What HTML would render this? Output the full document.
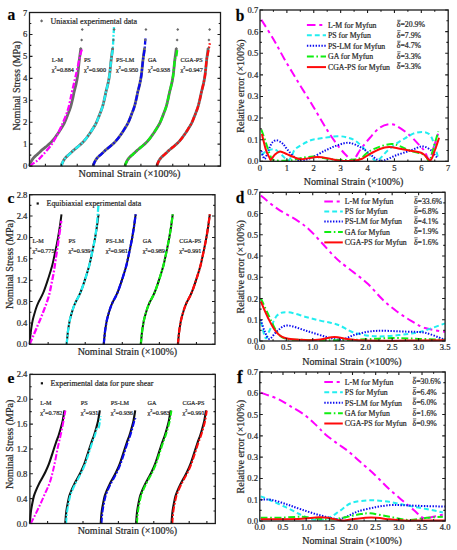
<!DOCTYPE html><html><head><meta charset="utf-8"><style>html,body{margin:0;padding:0;background:#fff;}svg{display:block;font-family:"Liberation Serif",serif;}text{stroke:#2a2a2a;stroke-width:0.22px;}</style></head><body>
<svg width="457" height="550" viewBox="0 0 457 550">
<rect width="457" height="550" fill="#ffffff"/>
<path d="M29.5,166.1 C29.57,165.84 29.74,165.05 29.9,164.56 C30.06,164.07 30.2,163.73 30.45,163.16 C30.71,162.59 31.05,161.81 31.41,161.14 C31.77,160.47 32.15,159.8 32.6,159.14 C33.05,158.49 33.45,157.92 34.12,157.24 C34.78,156.55 35.8,155.73 36.58,155.04 C37.37,154.35 38.11,153.75 38.81,153.09 C39.51,152.43 39.69,152.08 40.8,151.09 C41.91,150.1 43.96,148.47 45.5,147.16 C47.03,145.86 48.68,144.59 50.03,143.28 C51.39,141.97 52.53,140.65 53.61,139.33 C54.7,138.01 55.59,136.73 56.56,135.38 C57.53,134.03 58.15,133.22 59.42,131.21 C60.7,129.2 62.87,125.91 64.2,123.31 C65.52,120.71 66.32,118.34 67.38,115.63 C68.44,112.93 69.72,109.74 70.56,107.07 C71.41,104.4 71.86,102.21 72.47,99.61 C73.09,97.02 73.6,94.2 74.23,91.49 C74.85,88.79 75.65,86.05 76.22,83.38 C76.79,80.71 77.26,78.11 77.65,75.48 C78.03,72.84 78.23,70.28 78.52,67.58 C78.82,64.87 79.01,62.42 79.4,59.24 C79.78,56.06 80.59,50.28 80.83,48.49" stroke="#6a6a6a" stroke-width="2.8" fill="none" stroke-linejoin="round"/>
<path d="M61.33,166.1 C61.4,165.84 61.57,165.05 61.73,164.56 C61.89,164.07 62.04,163.73 62.29,163.16 C62.54,162.59 62.89,161.81 63.24,161.14 C63.6,160.47 63.99,159.8 64.44,159.14 C64.89,158.49 65.29,157.92 65.95,157.24 C66.61,156.55 67.63,155.73 68.42,155.04 C69.2,154.35 69.94,153.75 70.64,153.09 C71.35,152.43 71.52,152.08 72.63,151.09 C73.75,150.1 75.79,148.47 77.33,147.16 C78.87,145.86 80.51,144.59 81.87,143.28 C83.22,141.97 84.36,140.65 85.45,139.33 C86.53,138.01 87.42,136.73 88.39,135.38 C89.36,134.03 89.98,133.22 91.26,131.21 C92.53,129.2 94.71,125.91 96.03,123.31 C97.36,120.71 98.15,118.34 99.22,115.63 C100.28,112.93 101.55,109.74 102.4,107.07 C103.25,104.4 103.7,102.21 104.31,99.61 C104.92,97.02 105.44,94.2 106.06,91.49 C106.68,88.79 107.48,86.05 108.05,83.38 C108.62,80.71 109.1,78.11 109.48,75.48 C109.87,72.84 110.06,70.28 110.36,67.58 C110.65,64.87 110.85,62.42 111.23,59.24 C111.62,56.06 112.43,50.28 112.66,48.49" stroke="#6a6a6a" stroke-width="2.8" fill="none" stroke-linejoin="round"/>
<path d="M93.17,166.1 C93.23,165.84 93.41,165.05 93.56,164.56 C93.72,164.07 93.87,163.73 94.12,163.16 C94.37,162.59 94.72,161.81 95.08,161.14 C95.43,160.47 95.82,159.8 96.27,159.14 C96.72,158.49 97.12,157.92 97.78,157.24 C98.45,156.55 99.47,155.73 100.25,155.04 C101.03,154.35 101.77,153.75 102.48,153.09 C103.18,152.43 103.35,152.08 104.47,151.09 C105.58,150.1 107.62,148.47 109.16,147.16 C110.7,145.86 112.35,144.59 113.7,143.28 C115.05,141.97 116.19,140.65 117.28,139.33 C118.37,138.01 119.26,136.73 120.23,135.38 C121.19,134.03 121.82,133.22 123.09,131.21 C124.36,129.2 126.54,125.91 127.87,123.31 C129.19,120.71 129.99,118.34 131.05,115.63 C132.11,112.93 133.38,109.74 134.23,107.07 C135.08,104.4 135.53,102.21 136.14,99.61 C136.75,97.02 137.27,94.2 137.89,91.49 C138.52,88.79 139.31,86.05 139.88,83.38 C140.45,80.71 140.93,78.11 141.31,75.48 C141.7,72.84 141.9,70.28 142.19,67.58 C142.48,64.87 142.68,62.42 143.07,59.24 C143.45,56.06 144.26,50.28 144.5,48.49" stroke="#6a6a6a" stroke-width="2.8" fill="none" stroke-linejoin="round"/>
<path d="M125,166.1 C125.07,165.84 125.24,165.05 125.4,164.56 C125.56,164.07 125.7,163.73 125.95,163.16 C126.21,162.59 126.55,161.81 126.91,161.14 C127.27,160.47 127.65,159.8 128.1,159.14 C128.55,158.49 128.95,157.92 129.62,157.24 C130.28,156.55 131.3,155.73 132.08,155.04 C132.87,154.35 133.61,153.75 134.31,153.09 C135.01,152.43 135.19,152.08 136.3,151.09 C137.42,150.1 139.46,148.47 141,147.16 C142.53,145.86 144.18,144.59 145.53,143.28 C146.89,141.97 148.03,140.65 149.11,139.33 C150.2,138.01 151.09,136.73 152.06,135.38 C153.03,134.03 153.65,133.22 154.92,131.21 C156.2,129.2 158.37,125.91 159.7,123.31 C161.02,120.71 161.82,118.34 162.88,115.63 C163.94,112.93 165.22,109.74 166.06,107.07 C166.91,104.4 167.36,102.21 167.97,99.61 C168.59,97.02 169.1,94.2 169.73,91.49 C170.35,88.79 171.15,86.05 171.72,83.38 C172.29,80.71 172.76,78.11 173.15,75.48 C173.53,72.84 173.73,70.28 174.02,67.58 C174.32,64.87 174.51,62.42 174.9,59.24 C175.28,56.06 176.09,50.28 176.33,48.49" stroke="#6a6a6a" stroke-width="2.8" fill="none" stroke-linejoin="round"/>
<path d="M156.83,166.1 C156.9,165.84 157.07,165.05 157.23,164.56 C157.39,164.07 157.54,163.73 157.79,163.16 C158.04,162.59 158.39,161.81 158.74,161.14 C159.1,160.47 159.49,159.8 159.94,159.14 C160.39,158.49 160.79,157.92 161.45,157.24 C162.11,156.55 163.13,155.73 163.92,155.04 C164.7,154.35 165.44,153.75 166.14,153.09 C166.85,152.43 167.02,152.08 168.13,151.09 C169.25,150.1 171.29,148.47 172.83,147.16 C174.37,145.86 176.01,144.59 177.37,143.28 C178.72,141.97 179.86,140.65 180.95,139.33 C182.03,138.01 182.92,136.73 183.89,135.38 C184.86,134.03 185.48,133.22 186.76,131.21 C188.03,129.2 190.21,125.91 191.53,123.31 C192.86,120.71 193.65,118.34 194.71,115.63 C195.78,112.93 197.05,109.74 197.9,107.07 C198.75,104.4 199.2,102.21 199.81,99.61 C200.42,97.02 200.94,94.2 201.56,91.49 C202.18,88.79 202.98,86.05 203.55,83.38 C204.12,80.71 204.6,78.11 204.98,75.48 C205.37,72.84 205.56,70.28 205.86,67.58 C206.15,64.87 206.35,62.42 206.73,59.24 C207.12,56.06 207.93,50.28 208.16,48.49" stroke="#6a6a6a" stroke-width="2.8" fill="none" stroke-linejoin="round"/>
<path d="M29.5,166.1 C30.79,165.19 34.92,162.55 37.22,160.61 C39.51,158.68 40.97,157.03 43.27,154.47 C45.56,151.91 48.91,148.07 50.99,145.25 C53.07,142.44 54.09,140.61 55.76,137.57 C57.43,134.54 59.01,131.61 61.02,127.04 C63.02,122.47 66.02,115.7 67.78,110.15 C69.54,104.59 70.42,98.81 71.6,93.69 C72.78,88.57 73.92,83.52 74.86,79.43 C75.8,75.33 76.31,73.35 77.25,69.11 C78.19,64.87 79.72,57.3 80.51,53.97 C81.31,50.64 81.77,49.95 82.02,49.14" stroke="#ff00ff" stroke-width="2.3" fill="none" stroke-dasharray="6,1.8,1.8,1.8"/>
<path d="M61.33,166.1 C61.4,165.84 61.57,165.05 61.73,164.56 C61.89,164.07 62.04,163.73 62.29,163.16 C62.54,162.59 62.89,161.81 63.24,161.14 C63.6,160.47 63.99,159.8 64.44,159.14 C64.89,158.49 65.29,157.92 65.95,157.24 C66.61,156.55 67.63,155.73 68.42,155.04 C69.2,154.35 69.94,153.75 70.64,153.09 C71.35,152.43 71.52,152.08 72.63,151.09 C73.75,150.1 75.79,148.47 77.33,147.16 C78.87,145.86 80.51,144.59 81.87,143.28 C83.22,141.97 84.36,140.65 85.45,139.33 C86.53,138.01 87.42,136.73 88.39,135.38 C89.36,134.03 89.98,133.22 91.26,131.21 C92.53,129.2 94.71,125.91 96.03,123.31 C97.36,120.71 98.15,118.34 99.22,115.63 C100.28,112.93 101.55,109.74 102.4,107.07 C103.25,104.4 103.7,102.21 104.31,99.61 C104.92,97.02 105.44,94.2 106.06,91.49 C106.68,88.79 107.48,86.05 108.05,83.38 C108.62,80.71 109.1,78.11 109.48,75.48 C109.87,72.84 110.06,70.28 110.36,67.58 C110.65,64.87 110.85,62.2 111.23,59.24 C111.62,56.28 112.29,53.57 112.66,49.8 C113.04,46.04 113.23,40.48 113.46,36.64 C113.69,32.8 113.92,28.41 114.02,26.76" stroke="#22eef0" stroke-width="2.3" fill="none" stroke-dasharray="6,1.8,1.8,1.8"/>
<path d="M93.17,166.1 C93.23,165.84 93.41,165.05 93.56,164.56 C93.72,164.07 93.87,163.73 94.12,163.16 C94.37,162.59 94.72,161.81 95.08,161.14 C95.43,160.47 95.82,159.8 96.27,159.14 C96.72,158.49 97.12,157.92 97.78,157.24 C98.45,156.55 99.47,155.73 100.25,155.04 C101.03,154.35 101.77,153.75 102.48,153.09 C103.18,152.43 103.35,152.08 104.47,151.09 C105.58,150.1 107.62,148.47 109.16,147.16 C110.7,145.86 112.35,144.59 113.7,143.28 C115.05,141.97 116.19,140.65 117.28,139.33 C118.37,138.01 119.26,136.73 120.23,135.38 C121.19,134.03 121.82,133.22 123.09,131.21 C124.36,129.2 126.54,125.91 127.87,123.31 C129.19,120.71 129.99,118.34 131.05,115.63 C132.11,112.93 133.38,109.74 134.23,107.07 C135.08,104.4 135.53,102.21 136.14,99.61 C136.75,97.02 137.27,94.2 137.89,91.49 C138.52,88.79 139.31,86.05 139.88,83.38 C140.45,80.71 140.93,78.11 141.31,75.48 C141.7,72.84 141.9,70.28 142.19,67.58 C142.48,64.87 142.68,62.2 143.07,59.24 C143.45,56.28 144.1,53.28 144.5,49.8 C144.9,46.33 145.29,40.29 145.45,38.39" stroke="#0a0af0" stroke-width="2.3" fill="none" stroke-dasharray="6,1.8,1.8,1.8"/>
<path d="M125,166.1 C125.07,165.84 125.24,165.05 125.4,164.56 C125.56,164.07 125.7,163.73 125.95,163.16 C126.21,162.59 126.55,161.81 126.91,161.14 C127.27,160.47 127.65,159.8 128.1,159.14 C128.55,158.49 128.95,157.92 129.62,157.24 C130.28,156.55 131.3,155.73 132.08,155.04 C132.87,154.35 133.61,153.75 134.31,153.09 C135.01,152.43 135.19,152.08 136.3,151.09 C137.42,150.1 139.46,148.47 141,147.16 C142.53,145.86 144.18,144.59 145.53,143.28 C146.89,141.97 148.03,140.65 149.11,139.33 C150.2,138.01 151.09,136.73 152.06,135.38 C153.03,134.03 153.65,133.22 154.92,131.21 C156.2,129.2 158.37,125.91 159.7,123.31 C161.02,120.71 161.82,118.34 162.88,115.63 C163.94,112.93 165.22,109.74 166.06,107.07 C166.91,104.4 167.36,102.21 167.97,99.61 C168.59,97.02 169.1,94.2 169.73,91.49 C170.35,88.79 171.15,86.05 171.72,83.38 C172.29,80.71 172.76,78.11 173.15,75.48 C173.53,72.84 173.73,70.28 174.02,67.58 C174.32,64.87 174.51,61.1 174.9,59.24 C175.28,57.37 175.92,58.21 176.33,56.39 C176.74,54.56 177.19,49.62 177.37,48.27" stroke="#10ee10" stroke-width="2.3" fill="none" stroke-dasharray="6,1.8,1.8,1.8"/>
<path d="M156.83,166.1 C156.9,165.84 157.07,165.05 157.23,164.56 C157.39,164.07 157.54,163.73 157.79,163.16 C158.04,162.59 158.39,161.81 158.74,161.14 C159.1,160.47 159.49,159.8 159.94,159.14 C160.39,158.49 160.79,157.92 161.45,157.24 C162.11,156.55 163.13,155.73 163.92,155.04 C164.7,154.35 165.44,153.75 166.14,153.09 C166.85,152.43 167.02,152.08 168.13,151.09 C169.25,150.1 171.29,148.47 172.83,147.16 C174.37,145.86 176.01,144.59 177.37,143.28 C178.72,141.97 179.86,140.65 180.95,139.33 C182.03,138.01 182.92,136.73 183.89,135.38 C184.86,134.03 185.48,133.22 186.76,131.21 C188.03,129.2 190.21,125.91 191.53,123.31 C192.86,120.71 193.65,118.34 194.71,115.63 C195.78,112.93 197.05,109.74 197.9,107.07 C198.75,104.4 199.2,102.21 199.81,99.61 C200.42,97.02 200.94,94.2 201.56,91.49 C202.18,88.79 202.98,86.05 203.55,83.38 C204.12,80.71 204.6,78.11 204.98,75.48 C205.37,72.84 205.56,70.28 205.86,67.58 C206.15,64.87 206.35,61.83 206.73,59.24 C207.12,56.64 207.65,54.67 208.16,52 C208.68,49.33 209.56,44.68 209.84,43.22" stroke="#ff0a0a" stroke-width="2.3" fill="none" stroke-dasharray="6,1.8,1.8,1.8"/>
<path d="M80.83,46.99l1.5,1.5l-1.5,1.5l-1.5,-1.5z" fill="#6a6a6a"/>
<path d="M81.63,38.43l1.5,1.5l-1.5,1.5l-1.5,-1.5z" fill="#6a6a6a"/>
<path d="M82.26,27.9l1.5,1.5l-1.5,1.5l-1.5,-1.5z" fill="#6a6a6a"/>
<path d="M112.66,46.99l1.5,1.5l-1.5,1.5l-1.5,-1.5z" fill="#6a6a6a"/>
<path d="M113.46,38.43l1.5,1.5l-1.5,1.5l-1.5,-1.5z" fill="#6a6a6a"/>
<path d="M114.1,27.9l1.5,1.5l-1.5,1.5l-1.5,-1.5z" fill="#6a6a6a"/>
<path d="M144.5,46.99l1.5,1.5l-1.5,1.5l-1.5,-1.5z" fill="#6a6a6a"/>
<path d="M145.29,38.43l1.5,1.5l-1.5,1.5l-1.5,-1.5z" fill="#6a6a6a"/>
<path d="M145.93,27.9l1.5,1.5l-1.5,1.5l-1.5,-1.5z" fill="#6a6a6a"/>
<path d="M176.33,46.99l1.5,1.5l-1.5,1.5l-1.5,-1.5z" fill="#6a6a6a"/>
<path d="M177.13,38.43l1.5,1.5l-1.5,1.5l-1.5,-1.5z" fill="#6a6a6a"/>
<path d="M177.76,27.9l1.5,1.5l-1.5,1.5l-1.5,-1.5z" fill="#6a6a6a"/>
<path d="M208.16,46.99l1.5,1.5l-1.5,1.5l-1.5,-1.5z" fill="#6a6a6a"/>
<path d="M208.96,38.43l1.5,1.5l-1.5,1.5l-1.5,-1.5z" fill="#6a6a6a"/>
<path d="M209.6,27.9l1.5,1.5l-1.5,1.5l-1.5,-1.5z" fill="#6a6a6a"/>
<rect x="29.5" y="12.5" width="191" height="153.6" fill="none" stroke="#1c1c1c" stroke-width="1.3"/>
<path d="M29.5,166.1h3M220.5,166.1h-3M29.5,155.13h1.8M220.5,155.13h-1.8M29.5,144.16h3M220.5,144.16h-3M29.5,133.19h1.8M220.5,133.19h-1.8M29.5,122.21h3M220.5,122.21h-3M29.5,111.24h1.8M220.5,111.24h-1.8M29.5,100.27h3M220.5,100.27h-3M29.5,89.3h1.8M220.5,89.3h-1.8M29.5,78.33h3M220.5,78.33h-3M29.5,67.36h1.8M220.5,67.36h-1.8M29.5,56.39h3M220.5,56.39h-3M29.5,45.41h1.8M220.5,45.41h-1.8M29.5,34.44h3M220.5,34.44h-3M29.5,23.47h1.8M220.5,23.47h-1.8M29.5,12.5h3M220.5,12.5h-3" stroke="#1c1c1c" stroke-width="1.1" fill="none"/>
<path d="M45.42,166.1v-2.4M61.33,166.1v-2.4M77.25,166.1v-2.4M93.17,166.1v-2.4M109.08,166.1v-2.4M125,166.1v-2.4M140.92,166.1v-2.4M156.83,166.1v-2.4M172.75,166.1v-2.4M188.67,166.1v-2.4M204.58,166.1v-2.4" stroke="#1c1c1c" stroke-width="1.1" fill="none"/>
<text x="27.2" y="169.1" font-size="8.6" text-anchor="end" font-weight="normal" fill="#2a2a2a">0</text>
<text x="27.2" y="147.16" font-size="8.6" text-anchor="end" font-weight="normal" fill="#2a2a2a">1</text>
<text x="27.2" y="125.21" font-size="8.6" text-anchor="end" font-weight="normal" fill="#2a2a2a">2</text>
<text x="27.2" y="103.27" font-size="8.6" text-anchor="end" font-weight="normal" fill="#2a2a2a">3</text>
<text x="27.2" y="81.33" font-size="8.6" text-anchor="end" font-weight="normal" fill="#2a2a2a">4</text>
<text x="27.2" y="59.39" font-size="8.6" text-anchor="end" font-weight="normal" fill="#2a2a2a">5</text>
<text x="27.2" y="37.44" font-size="8.6" text-anchor="end" font-weight="normal" fill="#2a2a2a">6</text>
<text x="27.2" y="15.5" font-size="8.6" text-anchor="end" font-weight="normal" fill="#2a2a2a">7</text>
<text x="19.7" y="85.9" font-size="10" text-anchor="middle" font-weight="normal" fill="#2a2a2a" transform="rotate(-90 19.7 85.9)">Nominal Stress (MPa)</text>
<text x="129.5" y="177.2" font-size="10.25" text-anchor="middle" font-weight="normal" fill="#2a2a2a">Nominal Strain (×100%)</text>
<text x="7.5" y="20.4" font-size="15.5" text-anchor="start" font-weight="bold" fill="#000" transform="translate(0 20.4) scale(1 1.04) translate(0 -20.4)">a</text>
<path d="M41.6,19.3l1.6,1.6l-1.6,1.6l-1.6,-1.6z" fill="#6a6a6a"/>
<text x="50.5" y="23.7" font-size="8" text-anchor="start" font-weight="normal" fill="#2a2a2a">Uniaxial experimental data</text>
<text x="51.7" y="61.8" font-size="6.2" text-anchor="start" font-weight="normal" fill="#2a2a2a">L-M</text>
<text x="51.7" y="71.5" font-size="6.2" text-anchor="start" font-weight="normal" fill="#2a2a2a">χ<tspan font-size="4" dy="-2.5">2</tspan><tspan dy="2.5">=0.884</tspan></text>
<text x="83.9" y="61.8" font-size="6.2" text-anchor="start" font-weight="normal" fill="#2a2a2a">PS</text>
<text x="83.9" y="71.5" font-size="6.2" text-anchor="start" font-weight="normal" fill="#2a2a2a">χ<tspan font-size="4" dy="-2.5">2</tspan><tspan dy="2.5">=0.900</tspan></text>
<text x="116" y="61.8" font-size="6.2" text-anchor="start" font-weight="normal" fill="#2a2a2a">PS-LM</text>
<text x="116" y="71.5" font-size="6.2" text-anchor="start" font-weight="normal" fill="#2a2a2a">χ<tspan font-size="4" dy="-2.5">2</tspan><tspan dy="2.5">=0.950</tspan></text>
<text x="147.9" y="61.8" font-size="6.2" text-anchor="start" font-weight="normal" fill="#2a2a2a">GA</text>
<text x="147.9" y="71.5" font-size="6.2" text-anchor="start" font-weight="normal" fill="#2a2a2a">χ<tspan font-size="4" dy="-2.5">2</tspan><tspan dy="2.5">=0.938</tspan></text>
<text x="180.6" y="61.8" font-size="6.2" text-anchor="start" font-weight="normal" fill="#2a2a2a">CGA-PS</text>
<text x="180.6" y="71.5" font-size="6.2" text-anchor="start" font-weight="normal" fill="#2a2a2a">χ<tspan font-size="4" dy="-2.5">2</tspan><tspan dy="2.5">=0.947</tspan></text>
<path d="M29.6,344.3 C29.66,343.59 29.85,341.36 29.97,340.03 C30.09,338.69 30.22,337.53 30.34,336.29 C30.47,335.04 30.59,333.61 30.71,332.55 C30.84,331.48 30.93,330.94 31.08,329.87 C31.24,328.81 31.41,327.56 31.64,326.13 C31.87,324.71 32.16,322.84 32.47,321.33 C32.78,319.81 32.91,319.19 33.49,317.05 C34.08,314.91 35.19,310.91 36,308.5 C36.8,306.1 37.08,305.3 38.31,302.63 C39.55,299.95 41.73,296.57 43.41,292.47 C45.1,288.38 46.97,282.5 48.42,278.05 C49.87,273.6 51.01,270.03 52.13,265.76 C53.24,261.49 54.17,256.77 55.09,252.4 C56.02,248.04 56.9,243.85 57.69,239.58 C58.48,235.31 59.19,230.94 59.82,226.76 C60.45,222.57 61.21,216.52 61.49,214.47" stroke="#111111" stroke-width="2.0" fill="none" stroke-linejoin="round"/>
<path d="M66.68,344.3 C66.74,343.59 66.93,341.36 67.05,340.03 C67.17,338.69 67.3,337.53 67.42,336.29 C67.55,335.04 67.67,333.61 67.79,332.55 C67.92,331.48 68.01,330.94 68.16,329.87 C68.32,328.81 68.49,327.56 68.72,326.13 C68.95,324.71 69.24,322.84 69.55,321.33 C69.86,319.81 69.99,319.19 70.57,317.05 C71.16,314.91 72.27,310.91 73.08,308.5 C73.88,306.1 74.16,305.3 75.39,302.63 C76.63,299.95 78.81,296.57 80.49,292.47 C82.18,288.38 84.05,282.5 85.5,278.05 C86.95,273.6 88.09,270.03 89.21,265.76 C90.32,261.49 91.25,256.77 92.17,252.4 C93.1,248.04 93.98,243.85 94.77,239.58 C95.56,235.31 96.27,230.94 96.9,226.76 C97.53,222.57 98.29,216.52 98.57,214.47" stroke="#111111" stroke-width="2.0" fill="none" stroke-linejoin="round"/>
<path d="M103.76,344.3 C103.82,343.59 104.01,341.36 104.13,340.03 C104.25,338.69 104.38,337.53 104.5,336.29 C104.63,335.04 104.75,333.61 104.87,332.55 C105,331.48 105.09,330.94 105.24,329.87 C105.4,328.81 105.57,327.56 105.8,326.13 C106.03,324.71 106.32,322.84 106.63,321.33 C106.94,319.81 107.07,319.19 107.65,317.05 C108.24,314.91 109.35,310.91 110.16,308.5 C110.96,306.1 111.24,305.3 112.47,302.63 C113.71,299.95 115.89,296.57 117.57,292.47 C119.26,288.38 121.13,282.5 122.58,278.05 C124.03,273.6 125.17,270.03 126.29,265.76 C127.4,261.49 128.33,256.77 129.25,252.4 C130.18,248.04 131.06,243.85 131.85,239.58 C132.64,235.31 133.35,230.94 133.98,226.76 C134.61,222.57 135.37,216.52 135.65,214.47" stroke="#111111" stroke-width="2.0" fill="none" stroke-linejoin="round"/>
<path d="M140.84,344.3 C140.9,343.59 141.09,341.36 141.21,340.03 C141.33,338.69 141.46,337.53 141.58,336.29 C141.71,335.04 141.83,333.61 141.95,332.55 C142.08,331.48 142.17,330.94 142.32,329.87 C142.48,328.81 142.65,327.56 142.88,326.13 C143.11,324.71 143.4,322.84 143.71,321.33 C144.02,319.81 144.15,319.19 144.73,317.05 C145.32,314.91 146.43,310.91 147.24,308.5 C148.04,306.1 148.32,305.3 149.55,302.63 C150.79,299.95 152.97,296.57 154.65,292.47 C156.34,288.38 158.21,282.5 159.66,278.05 C161.11,273.6 162.25,270.03 163.37,265.76 C164.48,261.49 165.41,256.77 166.33,252.4 C167.26,248.04 168.14,243.85 168.93,239.58 C169.72,235.31 170.43,230.94 171.06,226.76 C171.69,222.57 172.45,216.52 172.73,214.47" stroke="#111111" stroke-width="2.0" fill="none" stroke-linejoin="round"/>
<path d="M177.92,344.3 C177.98,343.59 178.17,341.36 178.29,340.03 C178.41,338.69 178.54,337.53 178.66,336.29 C178.79,335.04 178.91,333.61 179.03,332.55 C179.16,331.48 179.25,330.94 179.4,329.87 C179.56,328.81 179.73,327.56 179.96,326.13 C180.19,324.71 180.48,322.84 180.79,321.33 C181.1,319.81 181.23,319.19 181.81,317.05 C182.4,314.91 183.51,310.91 184.32,308.5 C185.12,306.1 185.4,305.3 186.63,302.63 C187.87,299.95 190.05,296.57 191.73,292.47 C193.42,288.38 195.29,282.5 196.74,278.05 C198.19,273.6 199.33,270.03 200.45,265.76 C201.56,261.49 202.49,256.77 203.41,252.4 C204.34,248.04 205.22,243.85 206.01,239.58 C206.8,235.31 207.51,230.94 208.14,226.76 C208.77,222.57 209.53,216.52 209.81,214.47" stroke="#111111" stroke-width="2.0" fill="none" stroke-linejoin="round"/>
<path d="M29.6,344.3 C30.22,342.88 31.93,338.96 33.31,335.75 C34.68,332.55 36.46,328.36 37.85,325.07 C39.24,321.77 40.34,319.28 41.65,315.98 C42.96,312.69 44.49,308.77 45.73,305.3 C46.97,301.82 48.09,298.8 49.07,295.15 C50.04,291.49 50.77,287.31 51.57,283.39 C52.37,279.47 53.21,275.64 53.89,271.64 C54.57,267.63 54.91,264.34 55.65,259.35 C56.39,254.36 57.39,248.13 58.34,241.72 C59.28,235.31 60.81,224.35 61.3,220.88" stroke="#ff00ff" stroke-width="2.3" fill="none" stroke-dasharray="6,1.8,1.8,1.8"/>
<path d="M66.68,344.3 C66.74,343.59 66.93,341.36 67.05,340.03 C67.17,338.69 67.3,337.53 67.42,336.29 C67.55,335.04 67.67,333.61 67.79,332.55 C67.92,331.48 68.01,330.94 68.16,329.87 C68.32,328.81 68.49,327.56 68.72,326.13 C68.95,324.71 69.24,322.84 69.55,321.33 C69.86,319.81 69.99,319.19 70.57,317.05 C71.16,314.91 72.27,310.91 73.08,308.5 C73.88,306.1 74.16,305.3 75.39,302.63 C76.63,299.95 78.81,296.57 80.49,292.47 C82.18,288.38 84.05,282.5 85.5,278.05 C86.95,273.6 88.09,270.03 89.21,265.76 C90.32,261.49 91.25,256.77 92.17,252.4 C93.1,248.04 93.98,244.3 94.77,239.58 C95.56,234.86 96.28,229.96 96.9,224.09 C97.52,218.21 98.21,207.61 98.48,204.32" stroke="#22eef0" stroke-width="2.3" fill="none" stroke-dasharray="6,1.8,1.8,1.8"/>
<path d="M103.76,344.3 C103.82,343.59 104.01,341.36 104.13,340.03 C104.25,338.69 104.38,337.53 104.5,336.29 C104.63,335.04 104.75,333.61 104.87,332.55 C105,331.48 105.09,330.94 105.24,329.87 C105.4,328.81 105.57,327.56 105.8,326.13 C106.03,324.71 106.32,322.84 106.63,321.33 C106.94,319.81 107.07,319.19 107.65,317.05 C108.24,314.91 109.35,310.91 110.16,308.5 C110.96,306.1 111.24,305.3 112.47,302.63 C113.71,299.95 115.89,296.57 117.57,292.47 C119.26,288.38 121.13,282.5 122.58,278.05 C124.03,273.6 125.17,270.03 126.29,265.76 C127.4,261.49 128.33,256.77 129.25,252.4 C130.18,248.04 131.06,243.85 131.85,239.58 C132.64,235.31 133.35,230.94 133.98,226.76 C134.61,222.57 135.37,216.52 135.65,214.47" stroke="#0a0af0" stroke-width="2.3" fill="none" stroke-dasharray="6,1.8,1.8,1.8"/>
<path d="M140.84,344.3 C140.9,343.59 141.09,341.36 141.21,340.03 C141.33,338.69 141.46,337.53 141.58,336.29 C141.71,335.04 141.83,333.61 141.95,332.55 C142.08,331.48 142.17,330.94 142.32,329.87 C142.48,328.81 142.65,327.56 142.88,326.13 C143.11,324.71 143.4,322.84 143.71,321.33 C144.02,319.81 144.15,319.19 144.73,317.05 C145.32,314.91 146.43,310.91 147.24,308.5 C148.04,306.1 148.32,305.3 149.55,302.63 C150.79,299.95 152.97,296.57 154.65,292.47 C156.34,288.38 158.21,282.5 159.66,278.05 C161.11,273.6 162.25,270.03 163.37,265.76 C164.48,261.49 165.41,256.77 166.33,252.4 C167.26,248.04 168.14,243.85 168.93,239.58 C169.72,235.31 170.43,230.94 171.06,226.76 C171.69,222.57 172.45,216.52 172.73,214.47" stroke="#10ee10" stroke-width="2.3" fill="none" stroke-dasharray="6,1.8,1.8,1.8"/>
<path d="M177.92,344.3 C177.98,343.59 178.17,341.36 178.29,340.03 C178.41,338.69 178.54,337.53 178.66,336.29 C178.79,335.04 178.91,333.61 179.03,332.55 C179.16,331.48 179.25,330.94 179.4,329.87 C179.56,328.81 179.73,327.56 179.96,326.13 C180.19,324.71 180.48,322.84 180.79,321.33 C181.1,319.81 181.23,319.19 181.81,317.05 C182.4,314.91 183.51,310.91 184.32,308.5 C185.12,306.1 185.4,305.3 186.63,302.63 C187.87,299.95 190.05,296.57 191.73,292.47 C193.42,288.38 195.29,282.5 196.74,278.05 C198.19,273.6 199.33,270.03 200.45,265.76 C201.56,261.49 202.49,256.77 203.41,252.4 C204.34,248.04 205.22,243.85 206.01,239.58 C206.8,235.31 207.51,230.94 208.14,226.76 C208.77,222.57 209.53,216.52 209.81,214.47" stroke="#ff0a0a" stroke-width="2.3" fill="none" stroke-dasharray="6,1.8,1.8,1.8"/>
<rect x="29.6" y="194.7" width="185.4" height="149.6" fill="none" stroke="#1c1c1c" stroke-width="1.3"/>
<path d="M29.6,344.3h3M215,344.3h-3M29.6,333.61h1.8M215,333.61h-1.8M29.6,322.93h3M215,322.93h-3M29.6,312.24h1.8M215,312.24h-1.8M29.6,301.56h3M215,301.56h-3M29.6,290.87h1.8M215,290.87h-1.8M29.6,280.19h3M215,280.19h-3M29.6,269.5h1.8M215,269.5h-1.8M29.6,258.81h3M215,258.81h-3M29.6,248.13h1.8M215,248.13h-1.8M29.6,237.44h3M215,237.44h-3M29.6,226.76h1.8M215,226.76h-1.8M29.6,216.07h3M215,216.07h-3M29.6,205.39h1.8M215,205.39h-1.8M29.6,194.7h3M215,194.7h-3" stroke="#1c1c1c" stroke-width="1.1" fill="none"/>
<path d="M48.14,344.3v-2.4M66.68,344.3v-2.4M85.22,344.3v-2.4M103.76,344.3v-2.4M122.3,344.3v-2.4M140.84,344.3v-2.4M159.38,344.3v-2.4M177.92,344.3v-2.4M196.46,344.3v-2.4" stroke="#1c1c1c" stroke-width="1.1" fill="none"/>
<text x="27.4" y="347.3" font-size="8.6" text-anchor="end" font-weight="normal" fill="#2a2a2a">0.0</text>
<text x="27.4" y="325.93" font-size="8.6" text-anchor="end" font-weight="normal" fill="#2a2a2a">0.4</text>
<text x="27.4" y="304.56" font-size="8.6" text-anchor="end" font-weight="normal" fill="#2a2a2a">0.8</text>
<text x="27.4" y="283.19" font-size="8.6" text-anchor="end" font-weight="normal" fill="#2a2a2a">1.2</text>
<text x="27.4" y="261.81" font-size="8.6" text-anchor="end" font-weight="normal" fill="#2a2a2a">1.6</text>
<text x="27.4" y="240.44" font-size="8.6" text-anchor="end" font-weight="normal" fill="#2a2a2a">2.0</text>
<text x="27.4" y="219.07" font-size="8.6" text-anchor="end" font-weight="normal" fill="#2a2a2a">2.4</text>
<text x="27.4" y="197.7" font-size="8.6" text-anchor="end" font-weight="normal" fill="#2a2a2a">2.8</text>
<text x="13.3" y="264.4" font-size="10" text-anchor="middle" font-weight="normal" fill="#2a2a2a" transform="rotate(-90 13.3 264.4)">Nominal Stress (MPa)</text>
<text x="127.4" y="355.2" font-size="10" text-anchor="middle" font-weight="normal" fill="#2a2a2a">Nominal Strain (×100%)</text>
<text x="7.5" y="202.5" font-size="15.5" text-anchor="start" font-weight="bold" fill="#000">c</text>
<rect x="36.6" y="202.4" width="2.2" height="2.2" fill="#111111"/>
<text x="46.6" y="206.4" font-size="7.9" text-anchor="start" font-weight="normal" fill="#2a2a2a">Equibiaxial experimental data</text>
<text x="32.4" y="243.2" font-size="6.2" text-anchor="start" font-weight="normal" fill="#2a2a2a">L-M</text>
<text x="32.4" y="253" font-size="6.2" text-anchor="start" font-weight="normal" fill="#2a2a2a">χ<tspan font-size="4" dy="-2.5">2</tspan><tspan dy="2.5">=0.775</tspan></text>
<text x="68.5" y="243.2" font-size="6.2" text-anchor="start" font-weight="normal" fill="#2a2a2a">PS</text>
<text x="68.5" y="253" font-size="6.2" text-anchor="start" font-weight="normal" fill="#2a2a2a">χ<tspan font-size="4" dy="-2.5">2</tspan><tspan dy="2.5">=0.939</tspan></text>
<text x="105.8" y="243.2" font-size="6.2" text-anchor="start" font-weight="normal" fill="#2a2a2a">PS-LM</text>
<text x="105.8" y="253" font-size="6.2" text-anchor="start" font-weight="normal" fill="#2a2a2a">χ<tspan font-size="4" dy="-2.5">2</tspan><tspan dy="2.5">=0.961</tspan></text>
<text x="142.8" y="243.2" font-size="6.2" text-anchor="start" font-weight="normal" fill="#2a2a2a">GA</text>
<text x="142.8" y="253" font-size="6.2" text-anchor="start" font-weight="normal" fill="#2a2a2a">χ<tspan font-size="4" dy="-2.5">2</tspan><tspan dy="2.5">=0.989</tspan></text>
<text x="179.3" y="243.2" font-size="6.2" text-anchor="start" font-weight="normal" fill="#2a2a2a">CGA-PS</text>
<text x="179.3" y="253" font-size="6.2" text-anchor="start" font-weight="normal" fill="#2a2a2a">χ<tspan font-size="4" dy="-2.5">2</tspan><tspan dy="2.5">=0.991</tspan></text>
<path d="M29.9,523.5 C29.97,522.46 30.17,519.36 30.34,517.29 C30.52,515.22 30.62,513.46 30.96,511.07 C31.3,508.69 31.89,505.48 32.38,503 C32.86,500.51 33.29,498.24 33.88,496.16 C34.47,494.09 35.11,492.54 35.92,490.57 C36.73,488.61 37.78,486.33 38.75,484.36 C39.72,482.39 40.65,480.84 41.76,478.77 C42.86,476.7 44.19,474.42 45.39,471.94 C46.58,469.45 47.75,466.97 48.93,463.86 C50.11,460.75 51.3,456.82 52.47,453.3 C53.63,449.78 54.89,445.74 55.92,442.74 C56.95,439.73 57.86,437.66 58.66,435.28 C59.46,432.9 60.03,430.83 60.7,428.45 C61.36,426.07 62.02,424 62.64,420.99 C63.26,417.99 64.12,412.19 64.41,410.43" stroke="#111111" stroke-width="2.1" fill="none" stroke-linejoin="round"/>
<path d="M65.3,523.5 C65.37,522.46 65.56,519.36 65.74,517.29 C65.92,515.22 66.02,513.46 66.36,511.07 C66.7,508.69 67.29,505.48 67.78,503 C68.26,500.51 68.69,498.24 69.28,496.16 C69.87,494.09 70.51,492.54 71.32,490.57 C72.13,488.61 73.17,486.33 74.15,484.36 C75.12,482.39 76.05,480.84 77.16,478.77 C78.26,476.7 79.59,474.42 80.79,471.94 C81.98,469.45 83.15,466.97 84.33,463.86 C85.51,460.75 86.7,456.82 87.87,453.3 C89.03,449.78 90.28,445.74 91.32,442.74 C92.35,439.73 93.26,437.66 94.06,435.28 C94.86,432.9 95.43,430.83 96.1,428.45 C96.76,426.07 97.42,424 98.04,420.99 C98.66,417.99 99.52,412.19 99.81,410.43" stroke="#111111" stroke-width="2.1" fill="none" stroke-linejoin="round"/>
<path d="M100.7,523.5 C100.77,522.46 100.96,519.36 101.14,517.29 C101.32,515.22 101.42,513.46 101.76,511.07 C102.1,508.69 102.69,505.48 103.18,503 C103.66,500.51 104.09,498.24 104.68,496.16 C105.27,494.09 105.9,492.54 106.71,490.57 C107.53,488.61 108.57,486.33 109.55,484.36 C110.52,482.39 111.45,480.84 112.56,478.77 C113.66,476.7 114.99,474.42 116.18,471.94 C117.38,469.45 118.54,466.97 119.72,463.86 C120.9,460.75 122.1,456.82 123.26,453.3 C124.43,449.78 125.68,445.74 126.72,442.74 C127.75,439.73 128.66,437.66 129.46,435.28 C130.25,432.9 130.83,430.83 131.49,428.45 C132.16,426.07 132.82,424 133.44,420.99 C134.06,417.99 134.92,412.19 135.21,410.43" stroke="#111111" stroke-width="2.1" fill="none" stroke-linejoin="round"/>
<path d="M136.1,523.5 C136.17,522.46 136.36,519.36 136.54,517.29 C136.72,515.22 136.82,513.46 137.16,511.07 C137.5,508.69 138.09,505.48 138.57,503 C139.06,500.51 139.49,498.24 140.08,496.16 C140.67,494.09 141.3,492.54 142.11,490.57 C142.92,488.61 143.97,486.33 144.95,484.36 C145.92,482.39 146.85,480.84 147.95,478.77 C149.06,476.7 150.39,474.42 151.58,471.94 C152.78,469.45 153.94,466.97 155.12,463.86 C156.3,460.75 157.5,456.82 158.66,453.3 C159.83,449.78 161.08,445.74 162.11,442.74 C163.15,439.73 164.06,437.66 164.86,435.28 C165.65,432.9 166.23,430.83 166.89,428.45 C167.56,426.07 168.22,424 168.84,420.99 C169.46,417.99 170.31,412.19 170.61,410.43" stroke="#111111" stroke-width="2.1" fill="none" stroke-linejoin="round"/>
<path d="M171.49,523.5 C171.57,522.46 171.76,519.36 171.94,517.29 C172.11,515.22 172.22,513.46 172.56,511.07 C172.9,508.69 173.49,505.48 173.97,503 C174.46,500.51 174.89,498.24 175.48,496.16 C176.07,494.09 176.7,492.54 177.51,490.57 C178.32,488.61 179.37,486.33 180.34,484.36 C181.32,482.39 182.25,480.84 183.35,478.77 C184.46,476.7 185.79,474.42 186.98,471.94 C188.18,469.45 189.34,466.97 190.52,463.86 C191.7,460.75 192.9,456.82 194.06,453.3 C195.23,449.78 196.48,445.74 197.51,442.74 C198.54,439.73 199.46,437.66 200.26,435.28 C201.05,432.9 201.63,430.83 202.29,428.45 C202.95,426.07 203.62,424 204.24,420.99 C204.86,417.99 205.71,412.19 206.01,410.43" stroke="#111111" stroke-width="2.1" fill="none" stroke-linejoin="round"/>
<g transform="translate(0.8 0.2)">
<path d="M29.9,523.5 C30.64,522.05 32.75,518.01 34.32,514.8 C35.9,511.59 37.75,507.76 39.37,504.24 C40.99,500.72 42.47,497.3 44.06,493.68 C45.65,490.06 47.45,486.85 48.93,482.5 C50.4,478.15 51.55,473.49 52.91,467.59 C54.27,461.69 55.74,453.3 57.07,447.09 C58.4,440.87 59.62,436.42 60.87,430.31 C62.13,424.2 63.97,413.75 64.59,410.43" stroke="#ff00ff" stroke-width="2.0" fill="none" stroke-dasharray="6,1.8,1.8,1.8"/>
<path d="M65.3,523.5 C65.37,522.46 65.56,519.36 65.74,517.29 C65.92,515.22 66.02,513.46 66.36,511.07 C66.7,508.69 67.29,505.48 67.78,503 C68.26,500.51 68.69,498.24 69.28,496.16 C69.87,494.09 70.51,492.54 71.32,490.57 C72.13,488.61 73.17,486.33 74.15,484.36 C75.12,482.39 76.05,480.84 77.16,478.77 C78.26,476.7 79.59,474.42 80.79,471.94 C81.98,469.45 83.15,466.97 84.33,463.86 C85.51,460.75 86.7,456.82 87.87,453.3 C89.03,449.78 90.28,445.74 91.32,442.74 C92.35,439.73 93.26,437.66 94.06,435.28 C94.86,432.9 95.43,429.79 96.1,428.45 C96.76,427.1 97.41,429.28 98.04,427.21 C98.68,425.14 99.59,417.89 99.9,416.02" stroke="#22eef0" stroke-width="2.0" fill="none" stroke-dasharray="6,1.8,1.8,1.8"/>
<path d="M100.7,523.5 C100.77,522.46 100.96,519.36 101.14,517.29 C101.32,515.22 101.42,513.46 101.76,511.07 C102.1,508.69 102.69,505.48 103.18,503 C103.66,500.51 104.09,498.24 104.68,496.16 C105.27,494.09 105.9,492.54 106.71,490.57 C107.53,488.61 108.57,486.33 109.55,484.36 C110.52,482.39 111.45,480.84 112.56,478.77 C113.66,476.7 114.99,474.42 116.18,471.94 C117.38,469.45 118.54,466.97 119.72,463.86 C120.9,460.75 122.1,456.82 123.26,453.3 C124.43,449.78 125.68,445.74 126.72,442.74 C127.75,439.73 128.66,437.66 129.46,435.28 C130.25,432.9 130.83,430.83 131.49,428.45 C132.16,426.07 132.9,422.75 133.44,420.99 C133.99,419.23 134.55,418.41 134.77,417.89" stroke="#0a0af0" stroke-width="2.0" fill="none" stroke-dasharray="6,1.8,1.8,1.8"/>
<path d="M136.1,523.5 C136.17,522.46 136.36,519.36 136.54,517.29 C136.72,515.22 136.82,513.46 137.16,511.07 C137.5,508.69 138.09,505.48 138.57,503 C139.06,500.51 139.49,498.24 140.08,496.16 C140.67,494.09 141.3,492.54 142.11,490.57 C142.92,488.61 143.97,486.33 144.95,484.36 C145.92,482.39 146.85,480.84 147.95,478.77 C149.06,476.7 150.39,474.42 151.58,471.94 C152.78,469.45 153.94,466.97 155.12,463.86 C156.3,460.75 157.5,456.82 158.66,453.3 C159.83,449.78 161.08,445.74 162.11,442.74 C163.15,439.73 164.06,437.66 164.86,435.28 C165.65,432.9 166.23,430.83 166.89,428.45 C167.56,426.07 168.22,424 168.84,420.99 C169.46,417.99 170.31,412.19 170.61,410.43" stroke="#10ee10" stroke-width="2.0" fill="none" stroke-dasharray="6,1.8,1.8,1.8"/>
<path d="M171.49,523.5 C171.57,522.46 171.76,519.36 171.94,517.29 C172.11,515.22 172.22,513.46 172.56,511.07 C172.9,508.69 173.49,505.48 173.97,503 C174.46,500.51 174.89,498.24 175.48,496.16 C176.07,494.09 176.7,492.54 177.51,490.57 C178.32,488.61 179.37,486.33 180.34,484.36 C181.32,482.39 182.25,480.84 183.35,478.77 C184.46,476.7 185.79,474.42 186.98,471.94 C188.18,469.45 189.34,466.97 190.52,463.86 C191.7,460.75 192.9,456.82 194.06,453.3 C195.23,449.78 196.48,445.74 197.51,442.74 C198.54,439.73 199.46,437.66 200.26,435.28 C201.05,432.9 201.63,430.83 202.29,428.45 C202.95,426.07 203.62,424 204.24,420.99 C204.86,417.99 205.71,412.19 206.01,410.43" stroke="#ff0a0a" stroke-width="2.0" fill="none" stroke-dasharray="6,1.8,1.8,1.8"/>
</g>
<rect x="29.9" y="374.4" width="185.4" height="149.1" fill="none" stroke="#1c1c1c" stroke-width="1.3"/>
<path d="M29.9,523.5h3M215.3,523.5h-3M29.9,511.07h1.8M215.3,511.07h-1.8M29.9,498.65h3M215.3,498.65h-3M29.9,486.22h1.8M215.3,486.22h-1.8M29.9,473.8h3M215.3,473.8h-3M29.9,461.38h1.8M215.3,461.38h-1.8M29.9,448.95h3M215.3,448.95h-3M29.9,436.52h1.8M215.3,436.52h-1.8M29.9,424.1h3M215.3,424.1h-3M29.9,411.67h1.8M215.3,411.67h-1.8M29.9,399.25h3M215.3,399.25h-3M29.9,386.82h1.8M215.3,386.82h-1.8M29.9,374.4h3M215.3,374.4h-3" stroke="#1c1c1c" stroke-width="1.1" fill="none"/>
<path d="M47.6,523.5v-2.4M65.3,523.5v-2.4M83,523.5v-2.4M100.7,523.5v-2.4M118.4,523.5v-2.4M136.1,523.5v-2.4M153.79,523.5v-2.4M171.49,523.5v-2.4M189.19,523.5v-2.4M206.89,523.5v-2.4" stroke="#1c1c1c" stroke-width="1.1" fill="none"/>
<text x="27.4" y="526.5" font-size="8.6" text-anchor="end" font-weight="normal" fill="#2a2a2a">0.0</text>
<text x="27.4" y="501.65" font-size="8.6" text-anchor="end" font-weight="normal" fill="#2a2a2a">0.4</text>
<text x="27.4" y="476.8" font-size="8.6" text-anchor="end" font-weight="normal" fill="#2a2a2a">0.8</text>
<text x="27.4" y="451.95" font-size="8.6" text-anchor="end" font-weight="normal" fill="#2a2a2a">1.2</text>
<text x="27.4" y="427.1" font-size="8.6" text-anchor="end" font-weight="normal" fill="#2a2a2a">1.6</text>
<text x="27.4" y="402.25" font-size="8.6" text-anchor="end" font-weight="normal" fill="#2a2a2a">2.0</text>
<text x="27.4" y="377.4" font-size="8.6" text-anchor="end" font-weight="normal" fill="#2a2a2a">2.4</text>
<text x="13.3" y="444.4" font-size="10" text-anchor="middle" font-weight="normal" fill="#2a2a2a" transform="rotate(-90 13.3 444.4)">Nominal Stress (MPa)</text>
<text x="127.4" y="534.3" font-size="10" text-anchor="middle" font-weight="normal" fill="#2a2a2a">Nominal Strain (×100%)</text>
<text x="7.5" y="382.5" font-size="15.5" text-anchor="start" font-weight="bold" fill="#000">e</text>
<rect x="40.8" y="382.2" width="2.2" height="2.2" fill="#111111"/>
<text x="50.5" y="386.2" font-size="7.85" text-anchor="start" font-weight="normal" fill="#2a2a2a">Experimental data for pure shear</text>
<text x="40.2" y="404.7" font-size="6.2" text-anchor="start" font-weight="normal" fill="#2a2a2a">L-M</text>
<text x="40.2" y="414.8" font-size="6.2" text-anchor="start" font-weight="normal" fill="#2a2a2a">χ<tspan font-size="4" dy="-2.5">2</tspan><tspan dy="2.5">=0.782</tspan></text>
<text x="80.8" y="404.7" font-size="6.2" text-anchor="start" font-weight="normal" fill="#2a2a2a">PS</text>
<text x="80.8" y="414.8" font-size="6.2" text-anchor="start" font-weight="normal" fill="#2a2a2a">χ<tspan font-size="4" dy="-2.5">2</tspan><tspan dy="2.5">=931</tspan></text>
<text x="110.8" y="404.7" font-size="6.2" text-anchor="start" font-weight="normal" fill="#2a2a2a">PS-LM</text>
<text x="110.8" y="414.8" font-size="6.2" text-anchor="start" font-weight="normal" fill="#2a2a2a">χ<tspan font-size="4" dy="-2.5">2</tspan><tspan dy="2.5">=0.936</tspan></text>
<text x="147.5" y="404.7" font-size="6.2" text-anchor="start" font-weight="normal" fill="#2a2a2a">GA</text>
<text x="147.5" y="414.8" font-size="6.2" text-anchor="start" font-weight="normal" fill="#2a2a2a">χ<tspan font-size="4" dy="-2.5">2</tspan><tspan dy="2.5">=0.983</tspan></text>
<text x="182.5" y="404.7" font-size="6.2" text-anchor="start" font-weight="normal" fill="#2a2a2a">CGA-PS</text>
<text x="182.5" y="414.8" font-size="6.2" text-anchor="start" font-weight="normal" fill="#2a2a2a">χ<tspan font-size="4" dy="-2.5">2</tspan><tspan dy="2.5">=0.991</tspan></text>
<path d="M261.34,19.73 C263.36,22.97 269.63,32.69 273.44,39.18 C277.25,45.66 280.16,51.61 284.2,58.63 C288.23,65.66 293.16,73.94 297.64,81.33 C302.12,88.71 307.05,96.28 311.08,102.94 C315.12,109.61 318.7,116.09 321.84,121.31 C324.97,126.54 327.21,130.21 329.9,134.28 C332.59,138.35 335.5,142.5 337.97,145.74 C340.43,148.98 342.67,151.57 344.69,153.74 C346.71,155.9 348.5,157.81 350.07,158.71 C351.64,159.61 352.31,160.76 354.1,159.14 C355.89,157.52 358.18,152.55 360.82,148.98 C363.47,145.41 366.78,141.31 369.96,137.74 C373.14,134.17 376.42,129.85 379.91,127.58 C383.41,125.31 387.62,124.09 390.93,124.12 C394.25,124.16 396.58,125.85 399.81,127.8 C403.03,129.74 407.15,133.02 410.29,135.8 C413.43,138.57 416.3,141.96 418.63,144.44 C420.96,146.93 422.48,148.19 424.27,150.71 C426.06,153.23 427.86,159.97 429.38,159.57 C430.9,159.17 431.93,152.73 433.41,148.33 C434.89,143.94 437.45,135.72 438.25,133.2" stroke="#ff00ff" stroke-width="2.0" fill="none" stroke-dasharray="8.6,3.8,3.0,3.8"/>
<path d="M261.34,154.82 C262.46,154.1 265.83,151.39 268.07,150.49 C270.31,149.59 272.55,148.69 274.79,149.41 C277.03,150.13 279.27,152.98 281.51,154.82 C283.75,156.65 286.44,160.44 288.23,160.44 C290.02,160.44 290.96,156.83 292.26,154.82 C293.56,152.8 293.07,150.71 296.03,148.33 C298.98,145.95 306.33,142.14 310.01,140.55 C313.68,138.97 313.5,139.54 318.07,138.82 C322.64,138.1 332.32,136.37 337.43,136.23 C342.54,136.08 345.63,137.13 348.72,137.96 C351.81,138.79 353.29,139.29 355.98,141.2 C358.67,143.11 362.3,146.82 364.85,149.41 C367.41,152.01 369.29,154.85 371.31,156.76 C373.32,158.67 374.26,161.88 376.95,160.87 C379.64,159.86 384.3,153.52 387.44,150.71 C390.57,147.9 392.86,146.06 395.77,144.01 C398.69,141.96 402,140.12 404.91,138.39 C407.83,136.66 410.34,134.71 413.25,133.63 C416.16,132.55 419.7,131.8 422.39,131.9 C425.08,132.01 427.54,132.63 429.38,134.28 C431.22,135.94 431.98,138.06 433.41,141.85 C434.85,145.63 437.22,154.46 437.98,156.98" stroke="#22eef0" stroke-width="2.0" fill="none" stroke-dasharray="4.9,3.0"/>
<path d="M261.34,151.14 C261.66,152.08 262.6,155.54 263.23,156.76 C263.85,157.99 264.21,159.64 265.11,158.49 C266,157.34 267.44,152.47 268.6,149.84 C269.77,147.21 270.75,144.3 272.1,142.71 C273.44,141.13 274.92,140.19 276.67,140.33 C278.42,140.48 280.88,142.14 282.58,143.58 C284.29,145.02 285.14,146.93 286.89,148.98 C288.63,151.03 291.05,153.99 293.07,155.9 C295.09,157.81 296.16,160.04 298.98,160.44 C301.81,160.83 305.62,159.93 310.01,158.27 C314.4,156.62 320.67,152.69 325.33,150.49 C329.99,148.3 333.89,146.35 337.97,145.09 C342.05,143.83 345.54,142.28 349.8,142.93 C354.06,143.58 358.94,146.17 363.51,148.98 C368.08,151.79 373.86,157.88 377.22,159.79 C380.58,161.7 380.49,161.19 383.67,160.44 C386.86,159.68 391.83,156.91 396.31,155.25 C400.79,153.59 406.21,151.97 410.56,150.49 C414.91,149.02 418.94,146.39 422.39,146.39 C425.84,146.39 429.2,149.09 431.26,150.49 C433.32,151.9 433.73,153.55 434.76,154.82 C435.79,156.08 437,157.52 437.45,158.06" stroke="#0a0af0" stroke-width="2.0" fill="none" stroke-dasharray="1.4,1.5"/>
<path d="M261.34,129.53 C262.11,131.72 264.57,138.75 265.91,142.71 C267.26,146.67 268.33,150.53 269.41,153.3 C270.49,156.08 270.8,158.13 272.37,159.35 C273.94,160.58 275.5,160.51 278.82,160.65 C282.14,160.8 288.5,160.65 292.26,160.22 C296.03,159.79 297.82,158.67 301.4,158.06 C304.99,157.45 309.47,156.44 313.77,156.54 C318.07,156.65 322.73,158.13 327.21,158.71 C331.7,159.28 336.18,159.86 340.66,160 C345.14,160.15 350.52,160 354.1,159.57 C357.68,159.14 359.84,158.67 362.17,157.41 C364.5,156.15 365.12,153.81 368.08,152.01 C371.04,150.2 375.97,147.94 379.91,146.6 C383.85,145.27 388.42,144.08 391.74,144.01 C395.06,143.94 396.71,145.05 399.81,146.17 C402.9,147.29 406.21,149.27 410.29,150.71 C414.37,152.15 421.09,153.12 424.27,154.82 C427.45,156.51 427.86,161.95 429.38,160.87 C430.9,159.79 431.93,153.23 433.41,148.33 C434.89,143.43 437.45,134.28 438.25,131.47" stroke="#10ee10" stroke-width="2.0" fill="none" stroke-dasharray="6.9,2.6,1.6,2.6"/>
<path d="M261.88,134.07 C262.55,136.7 264.66,145.92 265.91,149.84 C267.17,153.77 268.56,155.97 269.41,157.63 C270.26,159.28 270.17,160.22 271.02,159.79 C271.87,159.35 273.04,156.4 274.52,155.03 C276,153.66 277.83,151.72 279.9,151.57 C281.96,151.43 284.69,153.3 286.89,154.17 C289.08,155.03 290.65,155.93 293.07,156.76 C295.49,157.59 297.33,159.1 301.4,159.14 C305.48,159.17 312.79,157.05 317.54,156.98 C322.29,156.91 326.05,158.06 329.9,158.71 C333.76,159.35 336.62,160.54 340.66,160.87 C344.69,161.19 350.52,161.01 354.1,160.65 C357.68,160.29 359.84,159.64 362.17,158.71 C364.5,157.77 365.12,156.65 368.08,155.03 C371.04,153.41 376.42,150.31 379.91,148.98 C383.41,147.65 385.74,147.07 389.05,147.03 C392.37,147 396.27,148.15 399.81,148.76 C403.35,149.38 406.53,149.95 410.29,150.71 C414.06,151.47 419.07,151.68 422.39,153.3 C425.71,154.92 428.13,160.9 430.19,160.44 C432.25,159.97 433.28,154.28 434.76,150.49 C436.24,146.71 438.34,139.87 439.06,137.74" stroke="#ff0a0a" stroke-width="2.0" fill="none"/>
<rect x="260" y="10" width="188.2" height="151.3" fill="none" stroke="#1c1c1c" stroke-width="1.3"/>
<path d="M260,161.3h3M448.2,161.3h-3M260,150.49h1.8M448.2,150.49h-1.8M260,139.69h3M448.2,139.69h-3M260,128.88h1.8M448.2,128.88h-1.8M260,118.07h3M448.2,118.07h-3M260,107.26h1.8M448.2,107.26h-1.8M260,96.46h3M448.2,96.46h-3M260,85.65h1.8M448.2,85.65h-1.8M260,74.84h3M448.2,74.84h-3M260,64.04h1.8M448.2,64.04h-1.8M260,53.23h3M448.2,53.23h-3M260,42.42h1.8M448.2,42.42h-1.8M260,31.61h3M448.2,31.61h-3M260,20.81h1.8M448.2,20.81h-1.8M260,10h3M448.2,10h-3" stroke="#1c1c1c" stroke-width="1.1" fill="none"/>
<path d="M273.44,161.3v-1.8M273.44,10v1.8M286.89,161.3v-3M286.89,10v3M300.33,161.3v-1.8M300.33,10v1.8M313.77,161.3v-3M313.77,10v3M327.21,161.3v-1.8M327.21,10v1.8M340.66,161.3v-3M340.66,10v3M354.1,161.3v-1.8M354.1,10v1.8M367.54,161.3v-3M367.54,10v3M380.99,161.3v-1.8M380.99,10v1.8M394.43,161.3v-3M394.43,10v3M407.87,161.3v-1.8M407.87,10v1.8M421.31,161.3v-3M421.31,10v3M434.76,161.3v-1.8M434.76,10v1.8" stroke="#1c1c1c" stroke-width="1.1" fill="none"/>
<text x="258.2" y="164.3" font-size="8.6" text-anchor="end" font-weight="normal" fill="#2a2a2a">0.0</text>
<text x="258.2" y="142.69" font-size="8.6" text-anchor="end" font-weight="normal" fill="#2a2a2a">0.1</text>
<text x="258.2" y="121.07" font-size="8.6" text-anchor="end" font-weight="normal" fill="#2a2a2a">0.2</text>
<text x="258.2" y="99.46" font-size="8.6" text-anchor="end" font-weight="normal" fill="#2a2a2a">0.3</text>
<text x="258.2" y="77.84" font-size="8.6" text-anchor="end" font-weight="normal" fill="#2a2a2a">0.4</text>
<text x="258.2" y="56.23" font-size="8.6" text-anchor="end" font-weight="normal" fill="#2a2a2a">0.5</text>
<text x="258.2" y="34.61" font-size="8.6" text-anchor="end" font-weight="normal" fill="#2a2a2a">0.6</text>
<text x="258.2" y="13" font-size="8.6" text-anchor="end" font-weight="normal" fill="#2a2a2a">0.7</text>
<text x="260" y="170.6" font-size="8.6" text-anchor="middle" font-weight="normal" fill="#2a2a2a">0</text>
<text x="286.89" y="170.6" font-size="8.6" text-anchor="middle" font-weight="normal" fill="#2a2a2a">1</text>
<text x="313.77" y="170.6" font-size="8.6" text-anchor="middle" font-weight="normal" fill="#2a2a2a">2</text>
<text x="340.66" y="170.6" font-size="8.6" text-anchor="middle" font-weight="normal" fill="#2a2a2a">3</text>
<text x="367.54" y="170.6" font-size="8.6" text-anchor="middle" font-weight="normal" fill="#2a2a2a">4</text>
<text x="394.43" y="170.6" font-size="8.6" text-anchor="middle" font-weight="normal" fill="#2a2a2a">5</text>
<text x="421.31" y="170.6" font-size="8.6" text-anchor="middle" font-weight="normal" fill="#2a2a2a">6</text>
<text x="448.2" y="170.6" font-size="8.6" text-anchor="middle" font-weight="normal" fill="#2a2a2a">7</text>
<text x="241" y="82.6" font-size="10" text-anchor="middle" font-weight="normal" fill="#2a2a2a" transform="rotate(-90 244.4 82.6)">Relative error (×100%)</text>
<text x="353.6" y="185.4" font-size="10" text-anchor="middle" font-weight="normal" fill="#2a2a2a">Nominal Strain (×100%)</text>
<text x="235.8" y="21" font-size="15.5" text-anchor="start" font-weight="bold" fill="#000" transform="translate(0 21) scale(1 1.14) translate(0 -21)">b</text>
<path d="M306.9,24.9H326" stroke="#ff00ff" stroke-width="2.0" stroke-dasharray="8.6,3.8,3.0,3.8"/>
<text x="328" y="27.7" font-size="7.8" text-anchor="start" font-weight="normal" fill="#2a2a2a">L-M for Myfun</text>
<text x="396.8" y="27.2" font-size="7.8" text-anchor="start" font-weight="normal" fill="#2a2a2a">δ=20.9%</text>
<path d="M397.2,20.3h3.4" stroke="#2a2a2a" stroke-width="0.7"/>
<path d="M306.9,35.3H326" stroke="#22eef0" stroke-width="2.0" stroke-dasharray="4.9,3.0"/>
<text x="328" y="38.1" font-size="7.8" text-anchor="start" font-weight="normal" fill="#2a2a2a">PS for Myfun</text>
<text x="396.8" y="37.6" font-size="7.8" text-anchor="start" font-weight="normal" fill="#2a2a2a">δ=7.9%</text>
<path d="M397.2,30.7h3.4" stroke="#2a2a2a" stroke-width="0.7"/>
<path d="M306.9,45.8H326" stroke="#0a0af0" stroke-width="2.0" stroke-dasharray="1.4,1.5"/>
<text x="328" y="48.6" font-size="7.8" text-anchor="start" font-weight="normal" fill="#2a2a2a">PS-LM for Myfun</text>
<text x="396.8" y="48.1" font-size="7.8" text-anchor="start" font-weight="normal" fill="#2a2a2a">δ=4.7%</text>
<path d="M397.2,41.2h3.4" stroke="#2a2a2a" stroke-width="0.7"/>
<path d="M306.9,56.4H326" stroke="#10ee10" stroke-width="2.0" stroke-dasharray="6.9,2.6,1.6,2.6"/>
<text x="328" y="59.2" font-size="7.8" text-anchor="start" font-weight="normal" fill="#2a2a2a">GA for Myfun</text>
<text x="396.8" y="58.7" font-size="7.8" text-anchor="start" font-weight="normal" fill="#2a2a2a">δ=3.3%</text>
<path d="M397.2,51.8h3.4" stroke="#2a2a2a" stroke-width="0.7"/>
<path d="M306.9,67.1H326" stroke="#ff0a0a" stroke-width="2.0"/>
<text x="328" y="69.9" font-size="7.8" text-anchor="start" font-weight="normal" fill="#2a2a2a">CGA-PS for Myfun</text>
<text x="396.8" y="69.4" font-size="7.8" text-anchor="start" font-weight="normal" fill="#2a2a2a">δ=3.3%</text>
<path d="M397.2,62.5h3.4" stroke="#2a2a2a" stroke-width="0.7"/>
<path d="M260.86,195.49 C263.59,197.68 271.18,204.48 277.27,208.66 C283.36,212.83 292.1,217.08 297.39,220.55 C302.68,224.02 305.07,225.86 309.04,229.47 C313.01,233.09 317.24,237.97 321.21,242.22 C325.18,246.47 329.68,251.67 332.86,254.97 C336.04,258.26 336.74,259.04 340.27,261.98 C343.8,264.92 349.36,268.88 354.04,272.6 C358.71,276.32 363.57,279.79 368.33,284.28 C373.1,288.78 377.86,295.04 382.63,299.58 C387.39,304.11 392.16,307.93 396.92,311.47 C401.69,315.01 406.54,318.06 411.22,320.82 C415.89,323.58 419.33,326.2 424.98,328.04 C430.63,329.88 441.75,331.23 445.1,331.87" stroke="#ff00ff" stroke-width="2.0" fill="none" stroke-dasharray="8.6,3.8,3.0,3.8"/>
<path d="M260.86,321.88 C261.65,324.57 264.21,336.5 265.62,338.03 C267.04,339.55 267.39,334.8 269.33,331.02 C271.27,327.23 274.09,318.41 277.27,315.3 C280.45,312.18 283.45,312 288.39,312.32 C293.33,312.64 301.62,315.83 306.92,317.21 C312.21,318.59 316.1,319.65 320.15,320.61 C324.21,321.56 327.92,322.09 331.27,322.94 C334.63,323.79 336.48,324.08 340.27,325.71 C344.07,327.33 348.13,330.95 354.04,332.72 C359.95,334.49 368.24,335.94 375.74,336.33 C383.25,336.72 391.54,335.83 399.04,335.05 C406.54,334.27 413.07,333.6 420.75,331.65 C428.42,329.71 441.04,324.75 445.1,323.37" stroke="#22eef0" stroke-width="2.0" fill="none" stroke-dasharray="4.9,3.0"/>
<path d="M260.86,319.76 C261.48,321.63 263.15,327.83 264.56,331.02 C265.98,334.2 267.21,338.88 269.33,338.88 C271.45,338.88 274.27,333.25 277.27,331.02 C280.27,328.79 282.39,325.49 287.33,325.49 C292.27,325.49 300.39,329.1 306.92,331.02 C313.45,332.93 320.86,335.51 326.51,336.96 C332.16,338.42 336.21,340.04 340.8,339.73 C345.39,339.41 349.45,336.4 354.04,335.05 C358.63,333.71 363.57,332.36 368.33,331.65 C373.1,330.95 376.27,330.8 382.63,330.8 C388.98,330.8 399.39,331.33 406.45,331.65 C413.51,331.97 419.07,331.55 424.98,332.72 C430.89,333.88 438.57,337.57 441.92,338.66 C445.28,339.76 444.57,339.19 445.1,339.3" stroke="#0a0af0" stroke-width="2.0" fill="none" stroke-dasharray="1.4,1.5"/>
<path d="M260.86,298.51 C262.01,300.99 265.01,307.72 267.74,313.38 C270.48,319.05 274.18,328.25 277.27,332.5 C280.36,336.75 281.24,337.64 286.27,338.88 C291.3,340.11 298.62,339.73 307.45,339.94 C316.27,340.15 329.51,340.26 339.21,340.15 C348.92,340.04 356.86,339.65 365.69,339.3 C374.51,338.95 383.33,338.1 392.16,338.03 C400.98,337.96 409.8,338.59 418.63,338.88 C427.45,339.16 440.69,339.58 445.1,339.73" stroke="#10ee10" stroke-width="2.0" fill="none" stroke-dasharray="6.9,2.6,1.6,2.6"/>
<path d="M260.86,301.49 C262.01,304.11 265.27,312.25 267.74,317.21 C270.21,322.16 272.77,327.76 275.68,331.23 C278.59,334.7 280.01,336.54 285.21,338.03 C290.42,339.51 301.01,339.9 306.92,340.15 C312.83,340.4 316.1,340.04 320.68,339.51 C325.27,338.98 329.95,337.03 334.45,336.96 C338.95,336.89 342.48,338.49 347.69,339.09 C352.89,339.69 355.63,340.33 365.69,340.58 C375.74,340.82 394.8,340.61 408.04,340.58 C421.28,340.54 438.92,340.4 445.1,340.36" stroke="#ff0a0a" stroke-width="2.0" fill="none"/>
<rect x="259.8" y="192.3" width="185.3" height="148.7" fill="none" stroke="#1c1c1c" stroke-width="1.3"/>
<path d="M259.8,341h3M445.1,341h-3M259.8,330.38h1.8M445.1,330.38h-1.8M259.8,319.76h3M445.1,319.76h-3M259.8,309.14h1.8M445.1,309.14h-1.8M259.8,298.51h3M445.1,298.51h-3M259.8,287.89h1.8M445.1,287.89h-1.8M259.8,277.27h3M445.1,277.27h-3M259.8,266.65h1.8M445.1,266.65h-1.8M259.8,256.03h3M445.1,256.03h-3M259.8,245.41h1.8M445.1,245.41h-1.8M259.8,234.79h3M445.1,234.79h-3M259.8,224.16h1.8M445.1,224.16h-1.8M259.8,213.54h3M445.1,213.54h-3M259.8,202.92h1.8M445.1,202.92h-1.8M259.8,192.3h3M445.1,192.3h-3" stroke="#1c1c1c" stroke-width="1.1" fill="none"/>
<path d="M273.04,341v-1.8M273.04,192.3v1.8M286.27,341v-3M286.27,192.3v3M299.51,341v-1.8M299.51,192.3v1.8M312.74,341v-3M312.74,192.3v3M325.98,341v-1.8M325.98,192.3v1.8M339.21,341v-3M339.21,192.3v3M352.45,341v-1.8M352.45,192.3v1.8M365.69,341v-3M365.69,192.3v3M378.92,341v-1.8M378.92,192.3v1.8M392.16,341v-3M392.16,192.3v3M405.39,341v-1.8M405.39,192.3v1.8M418.63,341v-3M418.63,192.3v3M431.86,341v-1.8M431.86,192.3v1.8" stroke="#1c1c1c" stroke-width="1.1" fill="none"/>
<text x="258" y="344" font-size="8.6" text-anchor="end" font-weight="normal" fill="#2a2a2a">0.0</text>
<text x="258" y="322.76" font-size="8.6" text-anchor="end" font-weight="normal" fill="#2a2a2a">0.1</text>
<text x="258" y="301.51" font-size="8.6" text-anchor="end" font-weight="normal" fill="#2a2a2a">0.2</text>
<text x="258" y="280.27" font-size="8.6" text-anchor="end" font-weight="normal" fill="#2a2a2a">0.3</text>
<text x="258" y="259.03" font-size="8.6" text-anchor="end" font-weight="normal" fill="#2a2a2a">0.4</text>
<text x="258" y="237.79" font-size="8.6" text-anchor="end" font-weight="normal" fill="#2a2a2a">0.5</text>
<text x="258" y="216.54" font-size="8.6" text-anchor="end" font-weight="normal" fill="#2a2a2a">0.6</text>
<text x="258" y="195.3" font-size="8.6" text-anchor="end" font-weight="normal" fill="#2a2a2a">0.7</text>
<text x="259.8" y="350.4" font-size="8.6" text-anchor="middle" font-weight="normal" fill="#2a2a2a">0.0</text>
<text x="286.27" y="350.4" font-size="8.6" text-anchor="middle" font-weight="normal" fill="#2a2a2a">0.5</text>
<text x="312.74" y="350.4" font-size="8.6" text-anchor="middle" font-weight="normal" fill="#2a2a2a">1.0</text>
<text x="339.21" y="350.4" font-size="8.6" text-anchor="middle" font-weight="normal" fill="#2a2a2a">1.5</text>
<text x="365.69" y="350.4" font-size="8.6" text-anchor="middle" font-weight="normal" fill="#2a2a2a">2.0</text>
<text x="392.16" y="350.4" font-size="8.6" text-anchor="middle" font-weight="normal" fill="#2a2a2a">2.5</text>
<text x="418.63" y="350.4" font-size="8.6" text-anchor="middle" font-weight="normal" fill="#2a2a2a">3.0</text>
<text x="445.1" y="350.4" font-size="8.6" text-anchor="middle" font-weight="normal" fill="#2a2a2a">3.5</text>
<text x="241" y="263.4" font-size="10" text-anchor="middle" font-weight="normal" fill="#2a2a2a" transform="rotate(-90 244.4 263.4)">Relative error (×100%)</text>
<text x="351.95" y="365.3" font-size="10" text-anchor="middle" font-weight="normal" fill="#2a2a2a">Nominal Strain (×100%)</text>
<text x="235.8" y="203" font-size="15.5" text-anchor="start" font-weight="bold" fill="#000" transform="translate(0 203) scale(1 1.14) translate(0 -203)">d</text>
<path d="M324.3,201.4H342.8" stroke="#ff00ff" stroke-width="2.0" stroke-dasharray="8.6,3.8,3.0,3.8"/>
<text x="344.8" y="204.2" font-size="7.8" text-anchor="start" font-weight="normal" fill="#2a2a2a">L-M for Myfun</text>
<text x="413.9" y="203.7" font-size="7.8" text-anchor="start" font-weight="normal" fill="#2a2a2a">δ=33.6%</text>
<path d="M414.3,196.8h3.4" stroke="#2a2a2a" stroke-width="0.7"/>
<path d="M324.3,211.4H342.8" stroke="#22eef0" stroke-width="2.0" stroke-dasharray="4.9,3.0"/>
<text x="344.8" y="214.2" font-size="7.8" text-anchor="start" font-weight="normal" fill="#2a2a2a">PS for Myfun</text>
<text x="413.9" y="213.7" font-size="7.8" text-anchor="start" font-weight="normal" fill="#2a2a2a">δ=6.8%</text>
<path d="M414.3,206.8h3.4" stroke="#2a2a2a" stroke-width="0.7"/>
<path d="M324.3,221.5H342.8" stroke="#0a0af0" stroke-width="2.0" stroke-dasharray="1.4,1.5"/>
<text x="344.8" y="224.3" font-size="7.8" text-anchor="start" font-weight="normal" fill="#2a2a2a">PS-LM for Myfun</text>
<text x="413.9" y="223.8" font-size="7.8" text-anchor="start" font-weight="normal" fill="#2a2a2a">δ=4.1%</text>
<path d="M414.3,216.9h3.4" stroke="#2a2a2a" stroke-width="0.7"/>
<path d="M324.3,232H342.8" stroke="#10ee10" stroke-width="2.0" stroke-dasharray="6.9,2.6,1.6,2.6"/>
<text x="344.8" y="234.8" font-size="7.8" text-anchor="start" font-weight="normal" fill="#2a2a2a">GA for Myfun</text>
<text x="413.9" y="234.3" font-size="7.8" text-anchor="start" font-weight="normal" fill="#2a2a2a">δ=1.9%</text>
<path d="M414.3,227.4h3.4" stroke="#2a2a2a" stroke-width="0.7"/>
<path d="M324.3,242.4H342.8" stroke="#ff0a0a" stroke-width="2.0"/>
<text x="344.8" y="245.2" font-size="7.8" text-anchor="start" font-weight="normal" fill="#2a2a2a">CGA-PS for Myfun</text>
<text x="413.9" y="244.7" font-size="7.8" text-anchor="start" font-weight="normal" fill="#2a2a2a">δ=1.6%</text>
<path d="M414.3,237.8h3.4" stroke="#2a2a2a" stroke-width="0.7"/>
<path d="M260.73,392.65 C263.55,393.68 272.9,396.66 277.69,398.82 C282.48,400.98 284.88,402.86 289.46,405.63 C294.05,408.4 300.59,411.98 305.22,415.42 C309.86,418.86 313.95,423.16 317.27,426.28 C320.6,429.4 321.91,431.35 325.15,434.15 C328.4,436.96 332.96,440.29 336.74,443.09 C340.53,445.9 344,447.88 347.87,450.97 C351.73,454.06 355.36,457.57 359.92,461.61 C364.47,465.66 370.34,470.66 375.21,475.24 C380.08,479.81 384.48,484.78 389.12,489.07 C393.75,493.36 398.77,497.37 403.02,500.99 C407.27,504.61 411.36,508.02 414.61,510.78 C417.85,513.55 419.71,516.53 422.49,517.59 C425.27,518.66 427.9,517.67 431.29,517.17 C434.69,516.67 440.95,515.04 442.88,514.61" stroke="#ff00ff" stroke-width="2.0" fill="none" stroke-dasharray="8.6,3.8,3.0,3.8"/>
<path d="M260.73,496.31 C262.12,496.88 264.82,497.87 269.07,499.71 C273.32,501.56 280.81,504.82 286.22,507.38 C291.63,509.93 296.73,512.98 301.51,515.04 C306.3,517.1 310.55,519.19 314.96,519.72 C319.36,520.25 323.76,519.72 327.93,518.23 C332.11,516.74 336.05,513.34 339.99,510.78 C343.93,508.23 346.63,504.65 351.57,502.91 C356.52,501.17 363.39,500.53 369.65,500.35 C375.91,500.18 382.55,500.92 389.12,501.84 C395.68,502.77 402.25,504.57 409.05,505.89 C415.85,507.2 424.27,508.62 429.9,509.72 C435.54,510.82 440.72,512.02 442.88,512.49" stroke="#22eef0" stroke-width="2.0" fill="none" stroke-dasharray="4.9,3.0"/>
<path d="M260.73,499.71 C262.43,499.71 266.68,498.97 270.92,499.71 C275.17,500.46 281.12,502.55 286.22,504.18 C291.32,505.82 296.03,507.7 301.51,509.51 C307,511.31 313.26,513.44 319.13,515.04 C325,516.64 332.34,518.73 336.74,519.08 C341.14,519.44 341.99,518.45 345.55,517.17 C349.1,515.89 353.04,513.09 358.06,511.42 C363.08,509.75 370.19,508.23 375.68,507.16 C381.16,506.1 386.49,505.36 390.97,505.04 C395.45,504.72 396.61,505.07 402.56,505.25 C408.51,505.43 419.55,505.89 426.66,506.1 C433.77,506.31 442.11,506.45 445.2,506.53" stroke="#0a0af0" stroke-width="2.0" fill="none" stroke-dasharray="1.4,1.5"/>
<path d="M260.73,517.81 C264.44,517.77 276.18,517.77 282.98,517.59 C289.77,517.42 296.18,516.6 301.51,516.74 C306.85,516.88 309.86,518.02 314.96,518.45 C320.06,518.87 327.01,519.51 332.11,519.3 C337.2,519.08 341.22,517.95 345.55,517.17 C349.87,516.39 353.97,515.25 358.06,514.61 C362.16,513.98 364.86,512.98 370.11,513.34 C375.37,513.69 383.25,515.64 389.58,516.74 C395.91,517.84 401.94,519.76 408.12,519.94 C414.3,520.11 420.87,518.34 426.66,517.81 C432.45,517.27 440.18,516.92 442.88,516.74" stroke="#10ee10" stroke-width="2.0" fill="none" stroke-dasharray="6.9,2.6,1.6,2.6"/>
<path d="M260.73,519.3 C264.44,519.3 276.18,519.37 282.98,519.3 C289.77,519.23 295.49,519.23 301.51,518.87 C307.54,518.52 314.49,517.31 319.13,517.17 C323.76,517.03 325.62,517.45 329.32,518.02 C333.03,518.59 337.51,520.36 341.38,520.57 C345.24,520.79 347.56,519.79 352.5,519.3 C357.44,518.8 364.86,517.59 371.04,517.59 C377.22,517.59 384.17,518.8 389.58,519.3 C394.99,519.79 398.08,520.36 403.49,520.57 C408.89,520.79 415.07,520.57 422.02,520.57 C428.98,520.57 441.34,520.57 445.2,520.57" stroke="#ff0a0a" stroke-width="2.0" fill="none"/>
<rect x="259.8" y="372" width="185.4" height="149" fill="none" stroke="#1c1c1c" stroke-width="1.3"/>
<path d="M259.8,521h3M445.2,521h-3M259.8,510.36h1.8M445.2,510.36h-1.8M259.8,499.71h3M445.2,499.71h-3M259.8,489.07h1.8M445.2,489.07h-1.8M259.8,478.43h3M445.2,478.43h-3M259.8,467.79h1.8M445.2,467.79h-1.8M259.8,457.14h3M445.2,457.14h-3M259.8,446.5h1.8M445.2,446.5h-1.8M259.8,435.86h3M445.2,435.86h-3M259.8,425.21h1.8M445.2,425.21h-1.8M259.8,414.57h3M445.2,414.57h-3M259.8,403.93h1.8M445.2,403.93h-1.8M259.8,393.29h3M445.2,393.29h-3M259.8,382.64h1.8M445.2,382.64h-1.8M259.8,372h3M445.2,372h-3" stroke="#1c1c1c" stroke-width="1.1" fill="none"/>
<path d="M271.39,521v-1.8M271.39,372v1.8M282.98,521v-3M282.98,372v3M294.56,521v-1.8M294.56,372v1.8M306.15,521v-3M306.15,372v3M317.74,521v-1.8M317.74,372v1.8M329.32,521v-3M329.32,372v3M340.91,521v-1.8M340.91,372v1.8M352.5,521v-3M352.5,372v3M364.09,521v-1.8M364.09,372v1.8M375.68,521v-3M375.68,372v3M387.26,521v-1.8M387.26,372v1.8M398.85,521v-3M398.85,372v3M410.44,521v-1.8M410.44,372v1.8M422.02,521v-3M422.02,372v3M433.61,521v-1.8M433.61,372v1.8" stroke="#1c1c1c" stroke-width="1.1" fill="none"/>
<text x="258" y="524" font-size="8.6" text-anchor="end" font-weight="normal" fill="#2a2a2a">0.0</text>
<text x="258" y="502.71" font-size="8.6" text-anchor="end" font-weight="normal" fill="#2a2a2a">0.1</text>
<text x="258" y="481.43" font-size="8.6" text-anchor="end" font-weight="normal" fill="#2a2a2a">0.2</text>
<text x="258" y="460.14" font-size="8.6" text-anchor="end" font-weight="normal" fill="#2a2a2a">0.3</text>
<text x="258" y="438.86" font-size="8.6" text-anchor="end" font-weight="normal" fill="#2a2a2a">0.4</text>
<text x="258" y="417.57" font-size="8.6" text-anchor="end" font-weight="normal" fill="#2a2a2a">0.5</text>
<text x="258" y="396.29" font-size="8.6" text-anchor="end" font-weight="normal" fill="#2a2a2a">0.6</text>
<text x="258" y="375" font-size="8.6" text-anchor="end" font-weight="normal" fill="#2a2a2a">0.7</text>
<text x="259.8" y="530.3" font-size="8.6" text-anchor="middle" font-weight="normal" fill="#2a2a2a">0.0</text>
<text x="282.98" y="530.3" font-size="8.6" text-anchor="middle" font-weight="normal" fill="#2a2a2a">0.5</text>
<text x="306.15" y="530.3" font-size="8.6" text-anchor="middle" font-weight="normal" fill="#2a2a2a">1.0</text>
<text x="329.32" y="530.3" font-size="8.6" text-anchor="middle" font-weight="normal" fill="#2a2a2a">1.5</text>
<text x="352.5" y="530.3" font-size="8.6" text-anchor="middle" font-weight="normal" fill="#2a2a2a">2.0</text>
<text x="375.68" y="530.3" font-size="8.6" text-anchor="middle" font-weight="normal" fill="#2a2a2a">2.5</text>
<text x="398.85" y="530.3" font-size="8.6" text-anchor="middle" font-weight="normal" fill="#2a2a2a">3.0</text>
<text x="422.02" y="530.3" font-size="8.6" text-anchor="middle" font-weight="normal" fill="#2a2a2a">3.5</text>
<text x="445.2" y="530.3" font-size="8.6" text-anchor="middle" font-weight="normal" fill="#2a2a2a">4.0</text>
<text x="241" y="443.3" font-size="10" text-anchor="middle" font-weight="normal" fill="#2a2a2a" transform="rotate(-90 244.4 443.3)">Relative error (×100%)</text>
<text x="352" y="544.4" font-size="10" text-anchor="middle" font-weight="normal" fill="#2a2a2a">Nominal Strain (×100%)</text>
<text x="237" y="383" font-size="17" text-anchor="start" font-weight="bold" fill="#000" transform="translate(0 383) scale(1 1.14) translate(0 -383)">f</text>
<path d="M324.3,381.9H342.8" stroke="#ff00ff" stroke-width="2.0" stroke-dasharray="8.6,3.8,3.0,3.8"/>
<text x="344.8" y="384.7" font-size="7.8" text-anchor="start" font-weight="normal" fill="#2a2a2a">L-M for Myfun</text>
<text x="412.5" y="384.2" font-size="7.8" text-anchor="start" font-weight="normal" fill="#2a2a2a">δ=30.6%</text>
<path d="M412.9,377.3h3.4" stroke="#2a2a2a" stroke-width="0.7"/>
<path d="M324.3,392.2H342.8" stroke="#22eef0" stroke-width="2.0" stroke-dasharray="4.9,3.0"/>
<text x="344.8" y="395" font-size="7.8" text-anchor="start" font-weight="normal" fill="#2a2a2a">PS for Myfun</text>
<text x="412.5" y="394.5" font-size="7.8" text-anchor="start" font-weight="normal" fill="#2a2a2a">δ=6.4%</text>
<path d="M412.9,387.6h3.4" stroke="#2a2a2a" stroke-width="0.7"/>
<path d="M324.3,402.7H342.8" stroke="#0a0af0" stroke-width="2.0" stroke-dasharray="1.4,1.5"/>
<text x="344.8" y="405.5" font-size="7.8" text-anchor="start" font-weight="normal" fill="#2a2a2a">PS-LM for Myfun</text>
<text x="412.5" y="405" font-size="7.8" text-anchor="start" font-weight="normal" fill="#2a2a2a">δ=6.0%</text>
<path d="M412.9,398.1h3.4" stroke="#2a2a2a" stroke-width="0.7"/>
<path d="M324.3,413.3H342.8" stroke="#10ee10" stroke-width="2.0" stroke-dasharray="6.9,2.6,1.6,2.6"/>
<text x="344.8" y="416.1" font-size="7.8" text-anchor="start" font-weight="normal" fill="#2a2a2a">GA for Myfun</text>
<text x="412.5" y="415.6" font-size="7.8" text-anchor="start" font-weight="normal" fill="#2a2a2a">δ=1.6%</text>
<path d="M412.9,408.7h3.4" stroke="#2a2a2a" stroke-width="0.7"/>
<path d="M324.3,423.5H342.8" stroke="#ff0a0a" stroke-width="2.0"/>
<text x="344.8" y="426.3" font-size="7.8" text-anchor="start" font-weight="normal" fill="#2a2a2a">CGA-PS for Myfun</text>
<text x="412.5" y="425.8" font-size="7.8" text-anchor="start" font-weight="normal" fill="#2a2a2a">δ=0.9%</text>
<path d="M412.9,418.9h3.4" stroke="#2a2a2a" stroke-width="0.7"/>
</svg></body></html>
